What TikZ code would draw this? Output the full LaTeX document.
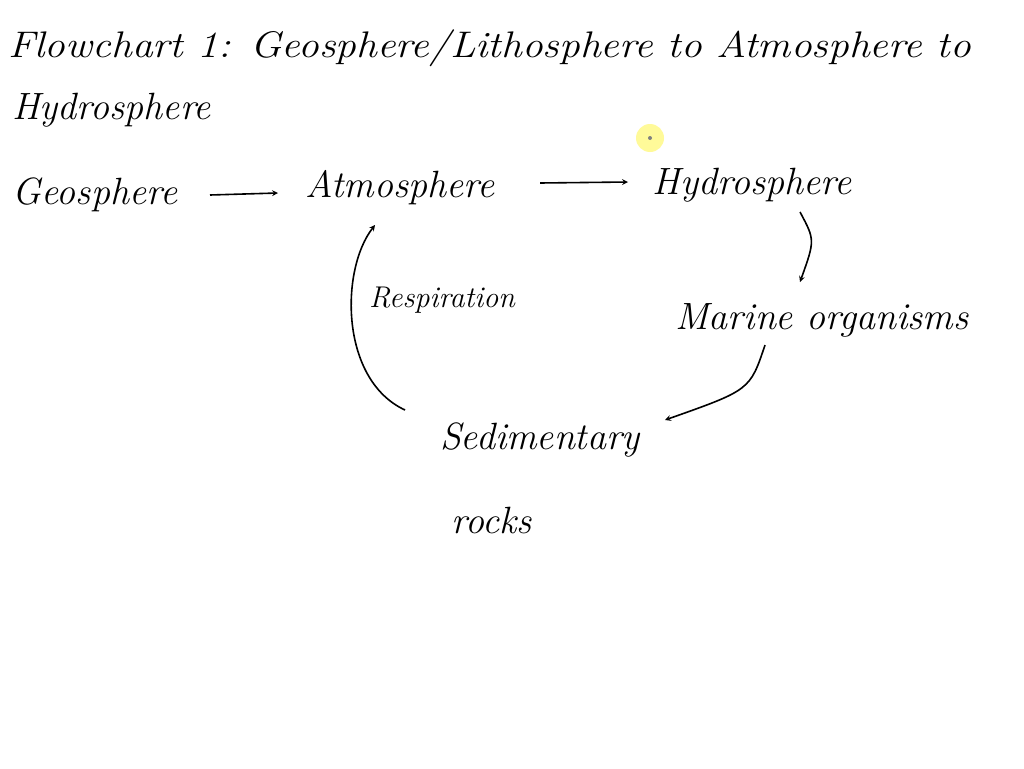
\documentclass[tikz,border=0pt]{standalone}
\begin{document}
\begin{tikzpicture}[x=1pt,y=-1pt,
  hw/.style={font=\fontsize{38}{42}\selectfont\itshape, inner sep=0pt},
  arr/.style={->, line width=1.6pt, >=stealth}]
\useasboundingbox[fill=white] (0,0) rectangle (1024,768);
\fill[yellow!40] (650,138) circle (14);
\fill[gray] (650,138) circle (2);
\node[hw, anchor=west, font=\fontsize{37}{42}\selectfont\itshape] (t1) at (8,48) {\scalebox{1.12}[1]{Flowchart 1: Geosphere/Lithosphere to Atmosphere to}};
\node[hw, anchor=west] (t2) at (12,110) {Hydrosphere};
\node[hw] (geo) at (95,195) {Geosphere};
\node[hw] (atm) at (400,188) {Atmosphere};
\node[hw] (hyd) at (752,185) {Hydrosphere};
\node[hw] (mar) at (822,320) {Marine organisms};
\node[hw] (sed) at (540,440) {Sedimentary};
\node[hw] (roc) at (492,520) {rocks};
\node[hw, font=\fontsize{30}{34}\selectfont\itshape] (resp) at (442,300) {Respiration};
\coordinate (g1) at (210,195); \coordinate (g2) at (278,193);
\draw[arr] (g1) -- (g2);
\coordinate (a1) at (540,183); \coordinate (a2) at (628,182);
\draw[arr] (a1) -- (a2);
\coordinate (h1) at (800,212);
\draw[arr] (h1) .. controls (815,240) .. (800,282);
\coordinate (m1) at (765,345);
\coordinate (s1) at (665,420);
\draw[arr] (m1) .. controls (750,390) .. (s1);
\coordinate (r1) at (405,410);
\coordinate (r2) at (375,225);
\draw[arr] (r1) .. controls (340,380) and (340,270) .. (r2);
\end{tikzpicture}
\end{document}
